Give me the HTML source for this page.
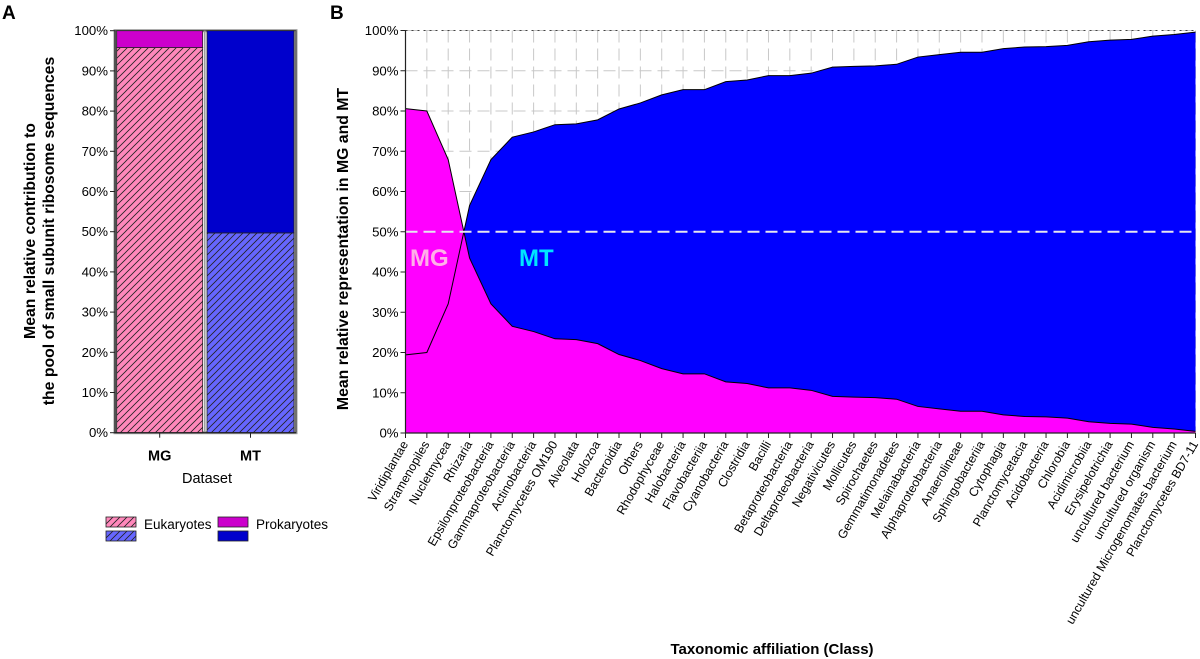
<!DOCTYPE html>
<html><head><meta charset="utf-8">
<style>
body{margin:0;background:#fff;}
svg{display:block;font-family:"Liberation Sans",Arial,sans-serif;}
</style></head>
<body>
<svg id="chart" width="1200" height="659" viewBox="0 0 1200 659" xmlns="http://www.w3.org/2000/svg">
<defs>
<pattern id="hatch" patternUnits="userSpaceOnUse" width="7" height="7">
<path d="M-1,8 L8,-1 M-1,1 L1,-1 M6,8 L8,6" stroke="#222" stroke-width="0.8"/>
</pattern>
</defs>
<text x="2" y="19" font-size="19" font-weight="bold">A</text>
<text x="330" y="19" font-size="19" font-weight="bold">B</text>
<g id="panelA"></g>
<g id="panelB"></g>
</svg>
<script>
// Panel A data
const datasets = ["MG", "MT"];
const eukaryotes = [95.8, 49.7];
const prokaryotes = [4.2, 50.3];
const yTicksA = ["0%","10%","20%","30%","40%","50%","60%","70%","80%","90%","100%"];
// Panel B data
const taxa = ["Viridiplantae","Stramenopiles","Nucletmycea","Rhizaria","Epsilonproteobacteria","Gammaproteobacteria","Actinobacteria","Planctomycetes OM190","Alveolata","Holozoa","Bacteroidia","Others","Rhodophyceae","Halobacteria","Flavobacteriia","Cyanobacteria","Clostridia","Bacilli","Betaproteobacteria","Deltaproteobacteria","Negativicutes","Mollicutes","Spirochaetes","Gemmatimonadetes","Melainabacteria","Alphaproteobacteria","Anaerolineae","Sphingobacteriia","Cytophagia","Planctomycetacia","Acidobacteria","Chlorobia","Acidimicrobiia","Erysipelotrichia","uncultured bacterium","uncultured organism","uncultured Microgenomates bacterium","Planctomycetes BD7-11"];
const mgValues = [80.6,80.0,67.9,43.5,32.1,26.5,25.2,23.4,23.2,22.2,19.5,18.0,16.0,14.7,14.7,12.7,12.3,11.2,11.2,10.6,9.1,8.9,8.8,8.4,6.6,6.0,5.4,5.4,4.5,4.1,4.0,3.7,2.8,2.4,2.2,1.4,1.0,0.4];
const mtValues = [19.4,20.0,32.1,56.5,67.9,73.5,74.8,76.6,76.8,77.8,80.5,82.0,84.0,85.3,85.3,87.3,87.7,88.8,88.8,89.4,90.9,91.1,91.2,91.6,93.4,94.0,94.6,94.6,95.5,95.9,96.0,96.3,97.2,97.6,97.8,98.6,99.0,99.6];
const yTicksB = ["0%","10%","20%","30%","40%","50%","60%","70%","80%","90%","100%"];

const NS="http://www.w3.org/2000/svg";
function mk(tag, attrs, parent, text){const e=document.createElementNS(NS,tag);for(const k in attrs)e.setAttribute(k,attrs[k]);if(text!==undefined)e.textContent=text;parent.appendChild(e);return e;}

// ---- Panel A ----
const A=document.getElementById('panelA');
const aL=115,aR=296,aT=30.7,aB=432.7;
const yA=v=>aB-(aB-aT)*v/100;
const barX=[116.7,207], barW=[86,87];
let fr=mk('rect',{x:aL,y:aT,width:aR-aL,height:aB-aT,fill:'#fff',stroke:'#999','stroke-width':3},A);

mk('rect',{x:aL,y:aT,width:aR-aL,height:aB-aT,fill:'none',stroke:'#333','stroke-width':0.8},A);
mk('line',{x1:204.8,x2:204.8,y1:aT,y2:aB,stroke:'#999','stroke-width':1.5},A);
const eukFill=['#ff88bb','#6666ff'], proFill=['#cc00cc','#0000cc'];
datasets.forEach((d,i)=>{
  const x=barX[i],w=barW[i];
  let r1=mk('rect',{x:x,y:yA(eukaryotes[i]),width:w,height:yA(0)-yA(eukaryotes[i]),fill:eukFill[i],stroke:'#222','stroke-width':0.8},A);
  
  mk('rect',{x:x,y:yA(eukaryotes[i]),width:w,height:yA(0)-yA(eukaryotes[i]),fill:'url(#hatch)'},A);
  let r2=mk('rect',{x:x,y:yA(eukaryotes[i]+prokaryotes[i]),width:w,height:yA(eukaryotes[i])-yA(eukaryotes[i]+prokaryotes[i]),fill:proFill[i],stroke:'#222','stroke-width':0.8},A);
  
  const cx=x+w/2;
  mk('line',{x1:cx,x2:cx,y1:aB,y2:aB+5,stroke:'#222'},A);
  let t=mk('text',{x:cx,y:aB+28,'font-size':14.5,'font-weight':'bold','text-anchor':'middle'},A,d);
  
});
mk('line',{x1:aL,x2:aL,y1:aT,y2:aB,stroke:'#222','stroke-width':1.2},A);
mk('line',{x1:aL,x2:aR,y1:aB,y2:aB,stroke:'#222','stroke-width':1.2},A);
yTicksA.forEach((lab,i)=>{
  const y=yA(i*10);
  mk('line',{x1:aL-5,x2:aL,y1:y,y2:y,stroke:'#222'},A);
  let t=mk('text',{x:aL-7,y:y+4.5,'font-size':13.2,'text-anchor':'end'},A,lab);
  
});
let xt=mk('text',{x:207,y:483,'font-size':14.5,'text-anchor':'middle'},A,'Dataset');

let yt=mk('text',{'font-size':15.8,'font-weight':'bold','text-anchor':'middle',transform:'rotate(-90)'},A);

mk('tspan',{x:-231,y:35},yt,'Mean relative contribution to');
mk('tspan',{x:-231,y:54},yt,'the pool of small subunit ribosome sequences');
// legend
const lg=mk('g',{},A);
[[106,517,'#ff88bb',true],[106,531,'#6666ff',true],[218,517,'#cc00cc',false],[218,531,'#0000cc',false]].forEach(s=>{
  let r=mk('rect',{x:s[0],y:s[1],width:30,height:10,fill:s[2],stroke:'#222','stroke-width':0.8},lg);
  
  if(s[3])mk('rect',{x:s[0],y:s[1],width:30,height:10,fill:'url(#hatch)'},lg);
});
let l1=mk('text',{x:144,y:529,'font-size':13.5},lg,'Eukaryotes');
let l2=mk('text',{x:256,y:529,'font-size':13.5},lg,'Prokaryotes');

// ---- Panel B ----
const B=document.getElementById('panelB');
const bL=405.5,bR=1195.5,bT=30.5,bB=433;
const n=taxa.length;
const xB=i=>bL+(bR-bL)*i/(n-1);
const yB=v=>bB-(bB-bT)*v/100;
for(let i=0;i<=10;i++){mk('line',{x1:bL,x2:bR,y1:yB(i*10),y2:yB(i*10),stroke:'#c8c8c8','stroke-dasharray':'12,6'},B);}
taxa.forEach((t,i)=>{mk('line',{x1:xB(i),x2:xB(i),y1:bT,y2:bB,stroke:'#c8c8c8','stroke-dasharray':'12,6'},B);});
mk('line',{x1:bL,x2:bR,y1:bT,y2:bT,stroke:'#444','stroke-dasharray':'2,4'},B);
function areaPath(vals){let d='M'+xB(0)+','+yB(0);vals.forEach((v,i)=>d+=' L'+xB(i).toFixed(2)+','+yB(v).toFixed(2));d+=' L'+xB(n-1)+','+yB(0)+' Z';return d;}
function linePath(vals){return vals.map((v,i)=>(i?'L':'M')+xB(i).toFixed(2)+','+yB(v).toFixed(2)).join(' ');}
let mtA=mk('path',{d:areaPath(mtValues),fill:'#0000ff'},B);
let mgA=mk('path',{d:areaPath(mgValues),fill:'#ff00ff'},B);
let mtL=mk('path',{d:linePath(mtValues),fill:'none',stroke:'#000','stroke-width':1},B);
let mgL=mk('path',{d:linePath(mgValues),fill:'none',stroke:'#000','stroke-width':1},B);
let half=mk('line',{x1:bL,x2:bR,y1:yB(50),y2:yB(50),stroke:'#e6e6f0','stroke-width':2,'stroke-dasharray':'12,6'},B);

let mgT=mk('text',{x:410,y:266,'font-size':24,'font-weight':'bold',fill:'#ffb0e8'},B,'MG');
let mtT=mk('text',{x:519,y:266,'font-size':24,'font-weight':'bold',fill:'#00e5ff'},B,'MT');
mk('line',{x1:bL,x2:bL,y1:bT,y2:bB,stroke:'#222','stroke-width':1.2},B);
mk('line',{x1:bL,x2:bR,y1:bB,y2:bB,stroke:'#222','stroke-width':1.2},B);
yTicksB.forEach((lab,i)=>{
  const y=yB(i*10);
  mk('line',{x1:bL-5,x2:bL,y1:y,y2:y,stroke:'#222'},B);
  let t=mk('text',{x:bL-7,y:y+4.5,'font-size':13.2,'text-anchor':'end'},B,lab);
  
});
taxa.forEach((lab,i)=>{
  const x=xB(i);
  mk('line',{x1:x,x2:x,y1:bB,y2:bB+5,stroke:'#222'},B);
  let t=mk('text',{x:x+3,y:bB+11,'font-size':12.3,'text-anchor':'end',transform:'rotate(-60 '+(x+3)+' '+(bB+11)+')'},B,lab);
  
});
let bxt=mk('text',{x:772,y:654,'font-size':15,'font-weight':'bold','text-anchor':'middle'},B,'Taxonomic affiliation (Class)');

let byt=mk('text',{x:-249,y:348,'font-size':15.8,'font-weight':'bold','text-anchor':'middle',transform:'rotate(-90)'},B,'Mean relative representation in MG and MT');

</script>
</body></html>
